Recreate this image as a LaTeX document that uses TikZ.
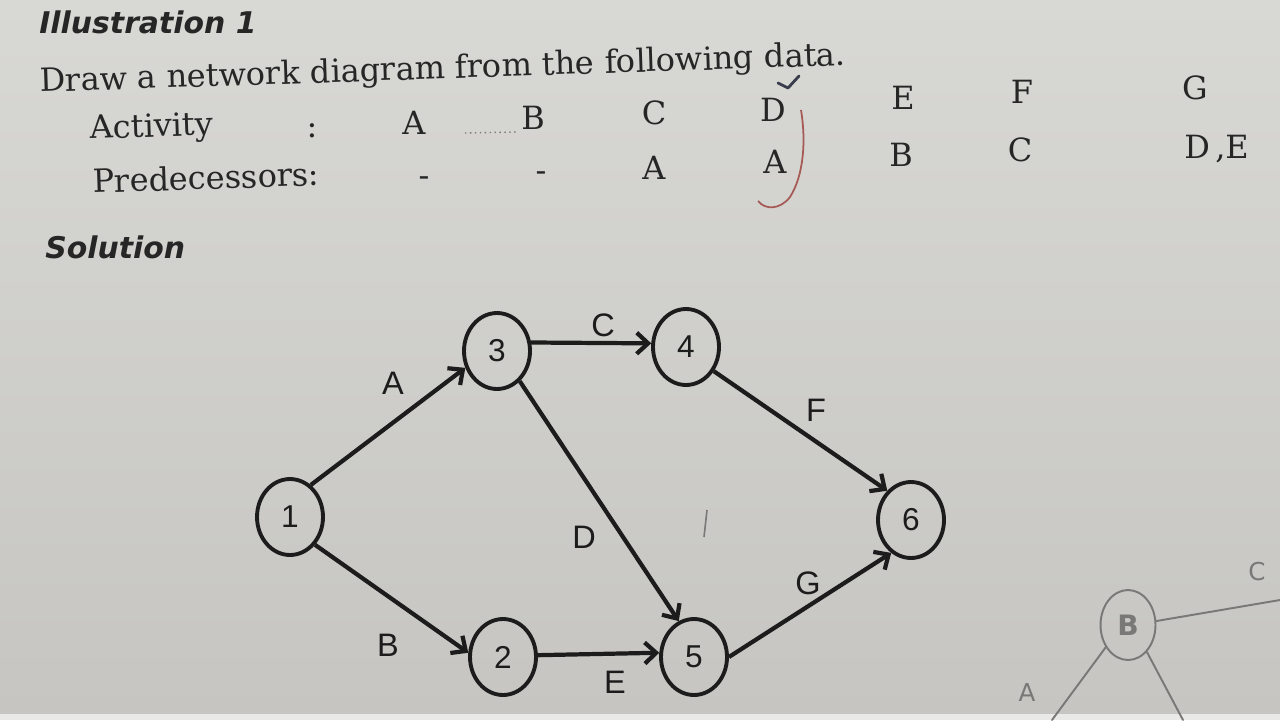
\documentclass[tikz,border=0pt]{standalone}
\usepackage{fontspec}
\setmainfont{DejaVu Serif}
\newfontfamily\labf{Liberation Sans}
\newfontfamily\handf{DejaVu Sans}
\newfontfamily\headf{DejaVu Sans}[BoldItalicFont={DejaVu Sans Bold Oblique}]
\usetikzlibrary{shapes.geometric,arrows.meta}
\definecolor{bgtop}{HTML}{D8D8D4}
\definecolor{bgbot}{HTML}{C6C5C2}
\definecolor{bgwhite}{HTML}{E9E9E7}
\definecolor{ink}{HTML}{1C1C1C}
\definecolor{ink2}{HTML}{262626}
\definecolor{pencilc}{HTML}{7A7876}
\definecolor{redpen}{HTML}{A65A55}
\definecolor{bluepen}{HTML}{3A3E4C}
\begin{document}
\begin{tikzpicture}[x=0.02cm,y=-0.02cm,
  ev/.style={ellipse, draw=ink, line width=2.2pt, minimum width=1.32cm, minimum height=1.52cm,
    inner sep=0pt, text=ink, font=\labf\fontsize{18}{18}\selectfont},
  act/.style={draw=ink, line width=2.4pt, -{Straight Barb[length=6.5pt,width=12pt]}},
  lbl/.style={inner sep=0pt, text=ink, font=\labf\fontsize{18.5}{18.5}\selectfont},
  txt/.style={inner sep=0pt, text=ink2, font=\fontsize{18.2}{18.2}\selectfont},
  head/.style={inner sep=0pt, text=ink2, font=\headf\bfseries\itshape\fontsize{17}{17}\selectfont},
  pencil/.style={draw=pencilc, line width=1.1pt, line cap=round},
  hand/.style={inner sep=0pt, text=pencilc, font=\handf\fontsize{14}{14}\selectfont}]
\useasboundingbox (0,0) rectangle (1280,720);
\shade[top color=bgtop, bottom color=bgbot] (0,0) rectangle (1280,714);
\fill[bgwhite] (0,714) rectangle (1280,720);

% heading and data
\node[head, anchor=base west] (t1) at (39,33) {Illustration 1};
\node[txt, anchor=base west, rotate=1.9] (t2) at (40,92) {Draw a network diagram from the following data.};
\node[txt, anchor=base west, rotate=1.9] (t3) at (90,139) {Activity};
\node[txt, anchor=base] (t4) at (312,137) {:};
\node[txt, anchor=base west, rotate=1.9] (t5) at (93,193) {Predecessors:};
\node[txt, anchor=base] (a1) at (414,134) {A};
\node[txt, anchor=base] (a2) at (533,129) {B};
\node[txt, anchor=base] (a3) at (654,124) {C};
\node[txt, anchor=base] (a4) at (773,121) {D};
\node[txt, anchor=base] (a5) at (903,109) {E};
\node[txt, anchor=base] (a6) at (1022,103) {F};
\node[txt, anchor=base] (a7) at (1195,99) {G};
\node[txt, anchor=base] (p1) at (424,186) {-};
\node[txt, anchor=base] (p2) at (541,181) {-};
\node[txt, anchor=base] (p3) at (654,179) {A};
\node[txt, anchor=base] (p4) at (775,173) {A};
\node[txt, anchor=base] (p5) at (901,166) {B};
\node[txt, anchor=base] (p6) at (1020,161) {C};
\node[txt, anchor=base west] (p7) at (1184,158) {D\,,E};
\node[head, anchor=base west] (t6) at (45,258) {Solution};
\coordinate (dl1) at (465,133);
\coordinate (dl2) at (516,132);
\draw[pencilc, line width=0.8pt, dotted] (dl1) -- (dl2);

% pen marks on the data
\draw[bluepen, line width=1.6pt, line cap=round, line join=round] (778,83) -- (788,88) -- (799,76);
\draw[redpen, line width=1pt] (801,110) .. controls (806,140) and (804,175) .. (790,197)
  .. controls (780,210) and (765,210) .. (758,201);

% network
\node[ev] (n1) at (290,517) {1};
\node[ev] (n3) at (497,351) {3};
\node[ev] (n4) at (686,347) {4};
\node[ev] (n2) at (503,657) {2};
\node[ev] (n5) at (694,657) {5};
\node[ev] (n6) at (911,520) {6};

\draw[act] (n1.57) -- (n3.208);
\draw[act] (n1.312) -- (n2.173);
\draw[act] (n3.14) -- (n4.174);
\draw[act] (n3.307) -- (n5.113);
\draw[act] (n2.3) -- (n5.173);
\draw[act] (n4.319) -- (n6.129);
\draw[act] (n5.0) -- (n6.239);

\node[lbl] (la) at (393,383) {A};
\node[lbl] (lb) at (388,645) {B};
\node[lbl] (lc) at (603,325) {C};
\node[lbl] (ld) at (584,537) {D};
\node[lbl] (le) at (615,682) {E};
\node[lbl] (lf) at (816,410) {F};
\node[lbl] (lg) at (808,583) {G};

% stray pencil mark
\draw[pencilc, line width=0.9pt] (707,510) -- (704,537);

% handwritten sketch, bottom right
\node[draw=pencilc, line width=1.1pt, ellipse, minimum width=1.1cm, minimum height=1.4cm, inner sep=0pt,
  text=pencilc, font=\headf\bfseries\fontsize{16}{16}\selectfont] (h3) at (1128,625) {B};
\coordinate (hr) at (1280,600);
\coordinate (hl) at (1052,720);
\coordinate (hm) at (1183,720);
\draw[pencil] (h3.8) -- (hr);
\draw[pencil] (h3.225) -- (hl);
\draw[pencil] (h3.305) -- (hm);
\node[hand] (hc) at (1257,572) {C};
\node[hand] (ha) at (1027,693) {A};
\end{tikzpicture}
\end{document}
